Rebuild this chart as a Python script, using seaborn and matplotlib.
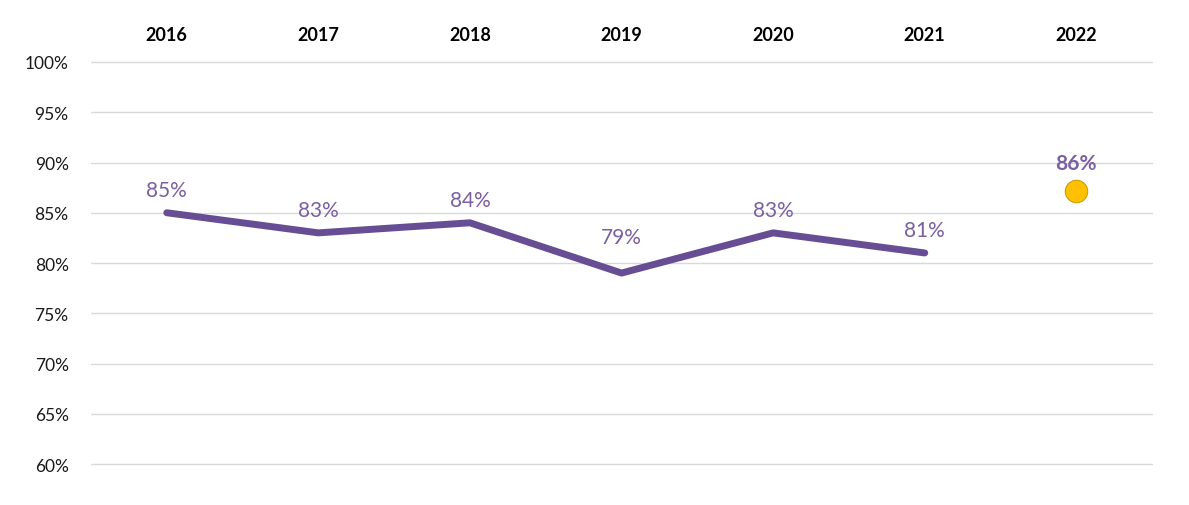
import matplotlib
matplotlib.use("Agg")
import matplotlib.pyplot as plt
import seaborn as sns
import pandas as pd

# Data
years = ["2016", "2017", "2018", "2019", "2020", "2021"]
rates = [85, 83, 84, 79, 83, 81]
rate_labels = ["85%", "83%", "84%", "79%", "83%", "81%"]
latest_year = "2022"
latest_rate = 87.2
latest_label = "86%"
all_years = years + [latest_year]
y_ticks = [60, 65, 70, 75, 80, 85, 90, 95, 100]

sns.set_theme(style="white")
plt.rcParams['font.family'] = ['Lato', 'DejaVu Sans']

purple_line = "#674E94"
purple_text = "#7B5FA3"
gold = "#FFC000"

fig = plt.figure(figsize=(11.89, 5.06), dpi=100)
ax = fig.add_axes([0.0765, 0.081, 0.8925, 0.7945])

df = pd.DataFrame({'year': years, 'rate': rates})
pos = {y: i for i, y in enumerate(all_years)}
df['x'] = df['year'].map(pos)

sns.lineplot(data=df, x='x', y='rate', ax=ax, color=purple_line,
             linewidth=5, solid_capstyle='round', zorder=3)

ax.scatter([pos[latest_year]], [latest_rate], s=260, color=gold,
           edgecolor="#C9A000", linewidth=0.8, zorder=4)

# label offsets (points above the mark); the dip label sits a bit higher
offsets = [9, 9, 9, 19, 9, 9]
for x, v, lab, off in zip(df['x'], rates, rate_labels, offsets):
    ax.annotate(lab, (x, v), xytext=(0, off), textcoords='offset points',
                ha='center', va='bottom', fontsize=15, color=purple_text)
ax.annotate(latest_label, (pos[latest_year], latest_rate), xytext=(0, 13),
            textcoords='offset points', ha='center', va='bottom',
            fontsize=15, fontweight='bold', color=purple_text)

ax.set_xlim(-0.5, len(all_years) - 0.5)
ax.set_ylim(60, 100)
ax.set_yticks(y_ticks)
ax.set_yticklabels([f"{t}%" for t in y_ticks], fontsize=12.5, color="#1a1a1a")
ax.set_xticks(range(len(all_years)))
ax.set_xticklabels(all_years, fontsize=13, fontweight='bold', color="black")
ax.xaxis.tick_top()
ax.tick_params(axis='x', length=0, pad=14)
ax.tick_params(axis='y', length=0, pad=16)
ax.yaxis.grid(True, color="#D9D9D9", linewidth=1)
for gl in ax.get_ygridlines():
    gl.set_clip_on(False)
ax.set_axisbelow(True)
for s in ax.spines.values():
    s.set_visible(False)
ax.set_xlabel("")
ax.set_ylabel("")

fig.savefig("out.png", dpi=100, facecolor="white")
